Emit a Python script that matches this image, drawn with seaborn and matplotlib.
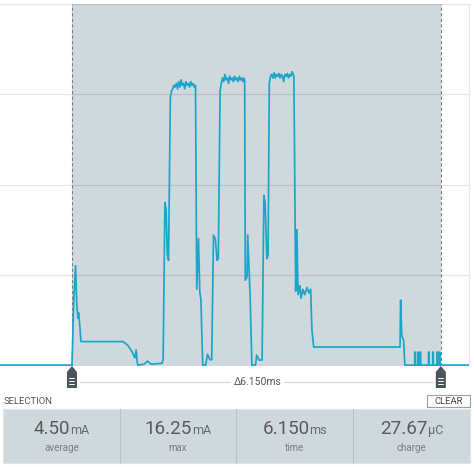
import numpy as np
import pandas as pd
import matplotlib
matplotlib.use("Agg")
import matplotlib.pyplot as plt
from matplotlib.patches import Polygon, Rectangle
import seaborn as sns

# current trace, time in ms and current in mA
time_ms = [0.00, 1.20, 1.23, 1.26, 1.28, 1.30, 1.31, 1.33, 1.35, 2.05, 2.13, 2.20, 2.25, 2.27, 2.29, 2.30,
           2.40, 2.46, 2.52, 2.70, 2.72,
           # burst 1
           2.75, 2.77, 2.79, 2.81, 2.84, 2.86, 2.88, 2.90, 2.92, 2.94, 2.96, 2.98, 3.00, 3.02, 3.04,
           3.06, 3.08, 3.10, 3.12, 3.14, 3.16, 3.18, 3.20, 3.22, 3.24, 3.26,
           3.28, 3.31, 3.33, 3.35, 3.38, 3.43, 3.46, 3.50, 3.53,
           # burst 2
           3.56, 3.59, 3.62, 3.64, 3.67, 3.69, 3.71, 3.73, 3.75, 3.77, 3.79, 3.81, 3.83, 3.85, 3.87,
           3.89, 3.91, 3.93, 3.95, 3.97, 3.99, 4.01, 4.03, 4.05, 4.07, 4.08,
           4.09, 4.12, 4.13, 4.15, 4.17, 4.20, 4.26, 4.28, 4.32, 4.37,
           # burst 3
           4.40, 4.42, 4.45, 4.47, 4.49, 4.51, 4.53, 4.55, 4.57, 4.59, 4.61, 4.63, 4.65, 4.67, 4.69,
           4.71, 4.73, 4.75, 4.77, 4.79, 4.81, 4.83, 4.85, 4.87, 4.89, 4.90,
           4.93, 4.95, 4.97, 5.00, 5.02, 5.05, 5.08, 5.12, 5.15, 5.18, 5.20, 5.23,
           # tail
           6.67, 6.68, 6.70, 6.73, 6.75,
           6.915, 6.915, 6.925, 6.925, 6.965, 6.965, 6.975, 6.975, 7.005, 7.005, 7.015, 7.015,
           7.145, 7.145, 7.155, 7.155, 7.215, 7.215, 7.225, 7.225, 7.285, 7.285, 7.295, 7.295,
           7.325, 7.325, 7.335, 7.335, 7.82]
current_ma = [0.00, 0.00, 3.6, 5.5, 3.3, 2.6, 2.9, 2.2, 1.3, 1.3, 1.1, 0.75, 0.4, 0.85, 0.1, 0.0,
              0.05, 0.22, 0.05, 0.1, 0.3,
              9.0, 8.6, 6.1, 5.8, 14.8, 15.2, 15.3, 15.5, 15.4, 15.6, 15.3, 15.7, 15.4, 15.8, 15.5,
              15.6, 15.3, 15.7, 15.5, 15.6, 15.4, 15.7, 15.5, 15.6, 15.4, 15.5,
              4.2, 7.0, 4.1, 3.6, 0.0, 0.0, 0.6, 0.3, 0.3,
              7.2, 7.0, 5.8, 5.9, 15.2, 15.6, 15.9, 15.7, 16.1, 15.8, 15.9, 15.6, 16.0, 15.8, 15.9,
              15.7, 16.0, 15.8, 15.9, 15.7, 16.0, 15.8, 15.9, 15.7, 15.9, 15.7,
              4.7, 4.9, 7.2, 5.5, 3.9, 0.0, 0.0, 0.55, 0.28, 0.28,
              9.4, 9.0, 5.9, 6.1, 15.6, 16.0, 16.1, 15.9, 16.2, 15.9, 16.1, 16.0, 16.15, 15.9, 16.1,
              16.0, 15.7, 16.1, 16.0, 16.15, 15.9, 16.1, 16.0, 16.25, 16.1, 16.0,
              4.1, 7.5, 3.9, 4.4, 3.7, 4.2, 3.9, 4.3, 4.0, 4.2, 2.0, 1.0,
              1.0, 3.6, 1.6, 1.4, 0.0,
              0.0, 0.72, 0.72, 0.0, 0.0, 0.72, 0.72, 0.0, 0.0, 0.72, 0.72, 0.0,
              0.0, 0.72, 0.72, 0.0, 0.0, 0.72, 0.72, 0.0, 0.0, 0.72, 0.72, 0.0,
              0.0, 0.72, 0.72, 0.0, 0.0]

sel_start, sel_end = 1.20, 7.35
t_max = 7.82
y_ticks = [5, 10, 15, 20]

stat_values = ["4.50", "16.25", "6.150", "27.67"]
stat_units = ["mA", "mA", "ms", "\u00b5C"]
stat_labels = ["average", "max", "time", "charge"]

sns.set_style("white")
plt.rcParams["font.family"] = ["Roboto", "DejaVu Sans"]

W, H = 474, 467
fig = plt.figure(figsize=(W / 100, H / 100), dpi=100)
ax = fig.add_axes([0, (H - 366) / H, 469 / W, 362 / H])

df = pd.DataFrame({"t": time_ms, "i": current_ma})
ax.axvspan(sel_start, sel_end, color="#cfd8dc", lw=0, zorder=0)
for y in y_ticks:
    ax.axhline(y, color="black", alpha=0.1, lw=0.9, zorder=1)
for x in [sel_start, sel_end]:
    ax.axvline(x, color="#7a8184", lw=0.8, ls=(0, (3, 2)), zorder=2)
sns.lineplot(data=df, x="t", y="i", ax=ax, color="#1ba6c9", lw=1.25, sort=False,
             estimator=None, zorder=3)
ax.set_xlim(0, t_max)
ax.set_ylim(-0.05, 20)
ax.set_xlabel("")
ax.set_ylabel("")
ax.set_xticks([])
ax.set_yticks([])
for s in ["left", "top", "bottom"]:
    ax.spines[s].set_visible(False)
ax.spines["right"].set_color("#e6e6e6")
ax.spines["right"].set_linewidth(0.9)

# overlay in pixel coordinates for the UI parts
ov = fig.add_axes([0, 0, 1, 1], zorder=5)
ov.set_xlim(0, W)
ov.set_ylim(H, 0)
ov.axis("off")
ov.patch.set_alpha(0)

fig.canvas.draw()
hx = [ax.transData.transform((x, 0))[0] for x in [sel_start, sel_end]]
dark = "#4b5559"
for cx in hx:
    ov.add_patch(Polygon([(cx, 366), (cx + 5, 372), (cx + 5, 388), (cx - 5, 388), (cx - 5, 372)],
                         closed=True, fc=dark, ec="none"))
    for yy in [378, 381, 384]:
        ov.plot([cx - 2.5, cx + 2.5], [yy, yy], color="white", lw=0.7)

mid = (hx[0] + hx[1]) / 2
ov.plot([hx[0] + 8, mid - 26], [382, 382], color="#d5d5d5", lw=0.8)
ov.plot([mid + 28, hx[1] - 8], [382, 382], color="#d5d5d5", lw=0.8)
ov.text(mid + 1, 382, "\u0394%.3fms" % (sel_end - sel_start), ha="center", va="center",
        fontsize=7.5, color="#555555")

ov.text(4, 402, "SELECTION", ha="left", va="center", fontsize=6.8, color="#555555")
ov.add_patch(Rectangle((427, 395), 43, 12, fc="white", ec="#9e9e9e", lw=0.8))
ov.text(448.5, 401.5, "CLEAR", ha="center", va="center", fontsize=6.8, color="#444444")

# stats panel
px0, px1, py0, py1 = 3, 470, 409, 463
ov.add_patch(Rectangle((px0, py0), px1 - px0, py1 - py0, fc="#cfd8dc", ec="#dfe5e8", lw=0.9))
bw = (px1 - px0) / len(stat_values)
renderer = fig.canvas.get_renderer()
for k, (v, u, lab) in enumerate(zip(stat_values, stat_units, stat_labels)):
    if k > 0:
        ov.plot([px0 + k * bw, px0 + k * bw], [py0, py1], color="#b8c1c5", lw=0.8)
    cx = px0 + (k + 0.5) * bw
    tv = ov.text(0, 434, v, ha="left", va="baseline", fontsize=13.5, color="#5a5a5a")
    tu = ov.text(0, 434, u, ha="left", va="baseline", fontsize=9, color="#6a6a6a")
    wv = tv.get_window_extent(renderer).width
    wu = tu.get_window_extent(renderer).width
    left = cx - (wv + wu) / 2
    tv.set_x(left)
    tu.set_x(left + wv)
    ov.text(cx, 448, lab, ha="center", va="center", fontsize=7, color="#7d7d7d")

fig.savefig("out.png", dpi=100)
